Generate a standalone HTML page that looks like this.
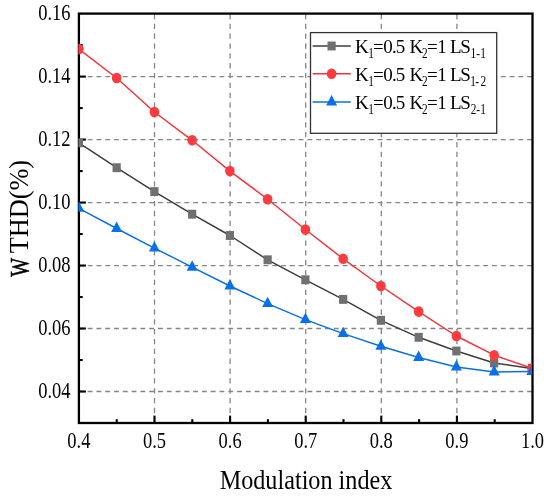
<!DOCTYPE html><html><head><meta charset="utf-8"><style>html,body{margin:0;padding:0;background:#fff;width:550px;height:496px;overflow:hidden}svg{display:block}text{font-family:"Liberation Serif","Times New Roman",serif;fill:#000}</style></head><body>
<svg width="550" height="496" viewBox="0 0 550 496">
<rect width="550" height="496" fill="#fff"/>
<defs><clipPath id="c"><rect x="78.4" y="13.60" width="453.60" height="409.40"/></clipPath></defs>
<g stroke="#858585" stroke-width="1.3" fill="none">
<line x1="78.90" y1="391.51" x2="532.50" y2="391.51" stroke-dasharray="4.85 3.94"/>
<line x1="78.90" y1="328.52" x2="532.50" y2="328.52" stroke-dasharray="4.85 3.94"/>
<line x1="78.90" y1="265.54" x2="532.50" y2="265.54" stroke-dasharray="4.85 3.94"/>
<line x1="78.90" y1="202.55" x2="532.50" y2="202.55" stroke-dasharray="4.85 3.94"/>
<line x1="78.90" y1="139.57" x2="532.50" y2="139.57" stroke-dasharray="4.85 3.94"/>
<line x1="78.90" y1="76.58" x2="532.50" y2="76.58" stroke-dasharray="4.85 3.94"/>
<line x1="154.50" y1="423.00" x2="154.50" y2="13.60" stroke-dasharray="5.3 4.55"/>
<line x1="230.10" y1="423.00" x2="230.10" y2="13.60" stroke-dasharray="5.3 4.55"/>
<line x1="305.70" y1="423.00" x2="305.70" y2="13.60" stroke-dasharray="5.3 4.55"/>
<line x1="381.30" y1="423.00" x2="381.30" y2="13.60" stroke-dasharray="5.3 4.55"/>
<line x1="456.90" y1="423.00" x2="456.90" y2="13.60" stroke-dasharray="5.3 4.55"/>
</g>
<g stroke="#000" stroke-width="2.1">
<line x1="78.90" y1="391.51" x2="85.90" y2="391.51"/>
<line x1="78.90" y1="328.52" x2="85.90" y2="328.52"/>
<line x1="78.90" y1="265.54" x2="85.90" y2="265.54"/>
<line x1="78.90" y1="202.55" x2="85.90" y2="202.55"/>
<line x1="78.90" y1="139.57" x2="85.90" y2="139.57"/>
<line x1="78.90" y1="76.58" x2="85.90" y2="76.58"/>
<line x1="78.90" y1="360.02" x2="82.70" y2="360.02"/>
<line x1="78.90" y1="297.03" x2="82.70" y2="297.03"/>
<line x1="78.90" y1="234.05" x2="82.70" y2="234.05"/>
<line x1="78.90" y1="171.06" x2="82.70" y2="171.06"/>
<line x1="78.90" y1="108.08" x2="82.70" y2="108.08"/>
<line x1="78.90" y1="45.09" x2="82.70" y2="45.09"/>
<line x1="154.50" y1="423.00" x2="154.50" y2="415.60"/>
<line x1="230.10" y1="423.00" x2="230.10" y2="415.60"/>
<line x1="305.70" y1="423.00" x2="305.70" y2="415.60"/>
<line x1="381.30" y1="423.00" x2="381.30" y2="415.60"/>
<line x1="456.90" y1="423.00" x2="456.90" y2="415.60"/>
<line x1="116.70" y1="423.00" x2="116.70" y2="419.20"/>
<line x1="192.30" y1="423.00" x2="192.30" y2="419.20"/>
<line x1="267.90" y1="423.00" x2="267.90" y2="419.20"/>
<line x1="343.50" y1="423.00" x2="343.50" y2="419.20"/>
<line x1="419.10" y1="423.00" x2="419.10" y2="419.20"/>
<line x1="494.70" y1="423.00" x2="494.70" y2="419.20"/>
</g>
<rect x="78.90" y="13.60" width="453.60" height="409.40" fill="none" stroke="#000" stroke-width="2.3"/>
<g clip-path="url(#c)">
<polyline points="78.90,142.80 116.65,167.70 154.40,191.60 192.15,214.20 229.90,235.50 267.65,259.80 305.40,279.80 343.15,299.40 380.90,320.30 418.65,337.30 456.40,351.00 494.15,362.95 531.90,368.50" fill="none" stroke="#3c3c3c" stroke-width="1.45" stroke-linejoin="round"/>
<polyline points="78.90,49.10 116.65,78.00 154.40,112.00 192.15,140.30 229.90,171.10 267.65,199.20 305.40,229.50 343.15,258.80 380.90,286.00 418.65,311.60 456.40,336.00 494.15,355.20 531.90,368.30" fill="none" stroke="#f7323a" stroke-width="1.45" stroke-linejoin="round"/>
<polyline points="78.90,208.30 116.65,228.50 154.40,248.10 192.15,267.20 229.90,286.00 267.65,303.60 305.40,319.60 343.15,333.60 380.90,346.30 418.65,357.50 456.40,367.00 494.15,372.00 531.90,371.50" fill="none" stroke="#0a6fe6" stroke-width="1.45" stroke-linejoin="round"/>
<rect x="74.80" y="138.35" width="8.2" height="8.9" fill="#707070"/>
<rect x="112.55" y="163.25" width="8.2" height="8.9" fill="#707070"/>
<rect x="150.30" y="187.15" width="8.2" height="8.9" fill="#707070"/>
<rect x="188.05" y="209.75" width="8.2" height="8.9" fill="#707070"/>
<rect x="225.80" y="231.05" width="8.2" height="8.9" fill="#707070"/>
<rect x="263.55" y="255.35" width="8.2" height="8.9" fill="#707070"/>
<rect x="301.30" y="275.35" width="8.2" height="8.9" fill="#707070"/>
<rect x="339.05" y="294.95" width="8.2" height="8.9" fill="#707070"/>
<rect x="376.80" y="315.85" width="8.2" height="8.9" fill="#707070"/>
<rect x="414.55" y="332.85" width="8.2" height="8.9" fill="#707070"/>
<rect x="452.30" y="346.55" width="8.2" height="8.9" fill="#707070"/>
<rect x="490.05" y="358.50" width="8.2" height="8.9" fill="#707070"/>
<rect x="527.80" y="364.05" width="8.2" height="8.9" fill="#707070"/>
<ellipse cx="78.90" cy="49.10" rx="4.8" ry="5.3" fill="#fa3c3e"/>
<ellipse cx="116.65" cy="78.00" rx="4.8" ry="5.3" fill="#fa3c3e"/>
<ellipse cx="154.40" cy="112.00" rx="4.8" ry="5.3" fill="#fa3c3e"/>
<ellipse cx="192.15" cy="140.30" rx="4.8" ry="5.3" fill="#fa3c3e"/>
<ellipse cx="229.90" cy="171.10" rx="4.8" ry="5.3" fill="#fa3c3e"/>
<ellipse cx="267.65" cy="199.20" rx="4.8" ry="5.3" fill="#fa3c3e"/>
<ellipse cx="305.40" cy="229.50" rx="4.8" ry="5.3" fill="#fa3c3e"/>
<ellipse cx="343.15" cy="258.80" rx="4.8" ry="5.3" fill="#fa3c3e"/>
<ellipse cx="380.90" cy="286.00" rx="4.8" ry="5.3" fill="#fa3c3e"/>
<ellipse cx="418.65" cy="311.60" rx="4.8" ry="5.3" fill="#fa3c3e"/>
<ellipse cx="456.40" cy="336.00" rx="4.8" ry="5.3" fill="#fa3c3e"/>
<ellipse cx="494.15" cy="355.20" rx="4.8" ry="5.3" fill="#fa3c3e"/>
<ellipse cx="531.90" cy="368.30" rx="4.8" ry="5.3" fill="#fa3c3e"/>
<polygon points="78.90,201.40 84.40,211.75 73.40,211.75" fill="#0870e8"/>
<polygon points="116.65,221.60 122.15,231.95 111.15,231.95" fill="#0870e8"/>
<polygon points="154.40,241.20 159.90,251.55 148.90,251.55" fill="#0870e8"/>
<polygon points="192.15,260.30 197.65,270.65 186.65,270.65" fill="#0870e8"/>
<polygon points="229.90,279.10 235.40,289.45 224.40,289.45" fill="#0870e8"/>
<polygon points="267.65,296.70 273.15,307.05 262.15,307.05" fill="#0870e8"/>
<polygon points="305.40,312.70 310.90,323.05 299.90,323.05" fill="#0870e8"/>
<polygon points="343.15,326.70 348.65,337.05 337.65,337.05" fill="#0870e8"/>
<polygon points="380.90,339.40 386.40,349.75 375.40,349.75" fill="#0870e8"/>
<polygon points="418.65,350.60 424.15,360.95 413.15,360.95" fill="#0870e8"/>
<polygon points="456.40,360.10 461.90,370.45 450.90,370.45" fill="#0870e8"/>
<polygon points="494.15,365.10 499.65,375.45 488.65,375.45" fill="#0870e8"/>
<polygon points="531.90,364.60 537.40,374.95 526.40,374.95" fill="#0870e8"/>
</g>
<rect x="310.5" y="32.6" width="186.20" height="100.70" fill="#fff" stroke="#333" stroke-width="1.3"/>
<line x1="312.6" y1="46.0" x2="350.8" y2="46.0" stroke="#3c3c3c" stroke-width="1.45"/>
<rect x="327.50" y="41.55" width="8.2" height="8.9" fill="#707070"/>
<text x="355.05 373.05 383.18 391.95 395.80 409.55 427.05 437.23 449.95 460.13" y="52.9" font-size="19.0">K=0.5K=1LS</text>
<text transform="translate(371.00,58.00) scale(0.82,1)" font-size="13.8" text-anchor="middle">1</text>
<text transform="translate(424.85,58.00) scale(0.82,1)" font-size="13.8" text-anchor="middle">2</text>
<text transform="translate(473.40,58.00) scale(0.82,1)" font-size="13.8" text-anchor="middle">1</text>
<text transform="translate(478.25,58.00) scale(0.82,1)" font-size="13.8" text-anchor="middle">-</text>
<text transform="translate(483.20,58.00) scale(0.82,1)" font-size="13.8" text-anchor="middle">1</text>
<line x1="312.6" y1="73.8" x2="350.8" y2="73.8" stroke="#f7323a" stroke-width="1.45"/>
<ellipse cx="331.60" cy="73.80" rx="4.8" ry="5.3" fill="#fa3c3e"/>
<text x="355.05 373.05 383.18 391.95 395.80 409.55 427.05 437.23 449.95 460.13" y="81.0" font-size="19.0">K=0.5K=1LS</text>
<text transform="translate(371.00,86.20) scale(0.82,1)" font-size="13.8" text-anchor="middle">1</text>
<text transform="translate(424.85,86.20) scale(0.82,1)" font-size="13.8" text-anchor="middle">2</text>
<text transform="translate(473.10,86.20) scale(0.82,1)" font-size="13.8" text-anchor="middle">1</text>
<text transform="translate(477.10,86.20) scale(0.82,1)" font-size="13.8" text-anchor="middle">-</text>
<text transform="translate(483.30,86.20) scale(0.82,1)" font-size="13.8" text-anchor="middle">2</text>
<line x1="312.6" y1="102.0" x2="350.8" y2="102.0" stroke="#0a6fe6" stroke-width="1.45"/>
<polygon points="331.60,95.10 337.10,105.45 326.10,105.45" fill="#0870e8"/>
<text x="355.05 373.05 383.18 391.95 395.80 409.55 427.05 437.23 449.95 460.13" y="109.1" font-size="19.0">K=0.5K=1LS</text>
<text transform="translate(371.00,114.00) scale(0.82,1)" font-size="13.8" text-anchor="middle">1</text>
<text transform="translate(424.85,114.00) scale(0.82,1)" font-size="13.8" text-anchor="middle">2</text>
<text transform="translate(473.55,114.00) scale(0.82,1)" font-size="13.8" text-anchor="middle">2</text>
<text transform="translate(478.20,114.00) scale(0.82,1)" font-size="13.8" text-anchor="middle">-</text>
<text transform="translate(483.00,114.00) scale(0.82,1)" font-size="13.8" text-anchor="middle">1</text>
<text transform="translate(70.6,20.20) scale(0.815,1)" font-size="22.7" text-anchor="end">0.16</text>
<text transform="translate(70.6,83.18) scale(0.815,1)" font-size="22.7" text-anchor="end">0.14</text>
<text transform="translate(70.6,146.17) scale(0.815,1)" font-size="22.7" text-anchor="end">0.12</text>
<text transform="translate(70.6,209.15) scale(0.815,1)" font-size="22.7" text-anchor="end">0.10</text>
<text transform="translate(70.6,272.14) scale(0.815,1)" font-size="22.7" text-anchor="end">0.08</text>
<text transform="translate(70.6,335.12) scale(0.815,1)" font-size="22.7" text-anchor="end">0.06</text>
<text transform="translate(70.6,398.11) scale(0.815,1)" font-size="22.7" text-anchor="end">0.04</text>
<text transform="translate(78.90,448.2) scale(0.815,1)" font-size="22.7" text-anchor="middle">0.4</text>
<text transform="translate(154.50,448.2) scale(0.815,1)" font-size="22.7" text-anchor="middle">0.5</text>
<text transform="translate(230.10,448.2) scale(0.815,1)" font-size="22.7" text-anchor="middle">0.6</text>
<text transform="translate(305.70,448.2) scale(0.815,1)" font-size="22.7" text-anchor="middle">0.7</text>
<text transform="translate(381.30,448.2) scale(0.815,1)" font-size="22.7" text-anchor="middle">0.8</text>
<text transform="translate(456.90,448.2) scale(0.815,1)" font-size="22.7" text-anchor="middle">0.9</text>
<text transform="translate(532.50,448.2) scale(0.815,1)" font-size="22.7" text-anchor="middle">1.0</text>
<text transform="translate(306,489.3) scale(0.906,1)" font-size="26.7" text-anchor="middle">Modulation index</text>
<text transform="translate(29.1,276.73) rotate(-90) scale(0.76,1)" font-size="26.3" stroke="#000" stroke-width="0.5">W</text>
<text transform="translate(28.4,253.37) rotate(-90)" font-size="26.3">THD(%)</text>
</svg></body></html>
